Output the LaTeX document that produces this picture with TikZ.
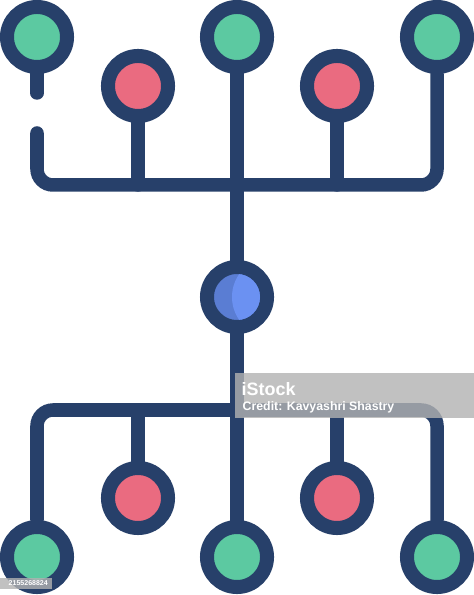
\documentclass[tikz,border=0pt]{standalone}
\usepackage{fontspec}
\setmainfont{Liberation Sans}
\usepackage{tikz}
\usetikzlibrary{calc}
\usetikzlibrary{positioning}
\definecolor{navy}{HTML}{27406A}
\definecolor{leafgreen}{HTML}{5CC9A1}
\definecolor{leafpink}{HTML}{EA6B80}
\definecolor{hubdark}{HTML}{5A7DD3}
\definecolor{hublight}{HTML}{6B91F2}

\begin{document}
\begin{tikzpicture}[x=0.01cm,y=-0.01cm,
  leaf/.style={circle,draw=navy,line width=0.14cm,minimum size=0.6cm,inner sep=0pt},
  wire/.style={navy,line width=0.135cm,line cap=round,rounded corners=0.16cm},
  wmark/.style={text=white,font=\bfseries,inner sep=0pt,anchor=west}]
 \useasboundingbox (0,0) rectangle (474,595);
 % circles
 \foreach \x/\n in {37/1,237/2,437/3} {
   \node[leaf,fill=leafgreen] (t\n) at (\x,37) {};
   \node[leaf,fill=leafgreen] (b\n) at (\x,557) {};
 }
 \foreach \x/\n in {138/1,337/2} {
   \node[leaf,fill=leafpink] (p\n) at (\x,86) {};
   \node[leaf,fill=leafpink] (q\n) at (\x,498) {};
 }
 \node[leaf,fill=hubdark] (hub) at (237,297) {};
 \begin{scope}
   \clip (hub) circle (0.23cm);
   \fill[hublight] ($(hub)+(35,0)$) circle (0.4cm);
 \end{scope}
 \coordinate (topbar) at (237,185);
 \coordinate (botbar) at (237,410);
 \coordinate (stub) at (37,93);
 \coordinate (gap) at (37,133);
 % wires
 \draw[wire] (t1.south) -- (stub);
 \draw[wire] (gap) -- (gap |- topbar) -- (t3 |- topbar) -- (t3.south);
 \draw[wire] (b1.north) -- (b1 |- botbar) -- (b3 |- botbar) -- (b3.north);
 \draw[wire] (t2.south) -- (hub.north);
 \draw[wire] (hub.south) -- (b2.north);
 \foreach \n in {1,2} {
   \draw[wire] (p\n.south) -- (p\n |- topbar);
   \draw[wire] (q\n |- botbar) -- (q\n.north);
 }
 % watermark
 \fill[black!30,opacity=0.8] (235,373) rectangle (474,418);
 \node[wmark,font=\fontsize{5.1}{6}\selectfont\bfseries] (logo) at (241,389) {iStock};
 \node[wmark,font=\fontsize{3.5}{4}\selectfont\bfseries] (credit) at (242,407) {Credit: Kavyashri Shastry};
 \fill[black!30,opacity=0.8] (0,578) rectangle (52,589);
 \node[wmark,font=\fontsize{2}{2}\selectfont\bfseries] (code) at (8,583.5) {2155268824};
\end{tikzpicture}
\end{document}
